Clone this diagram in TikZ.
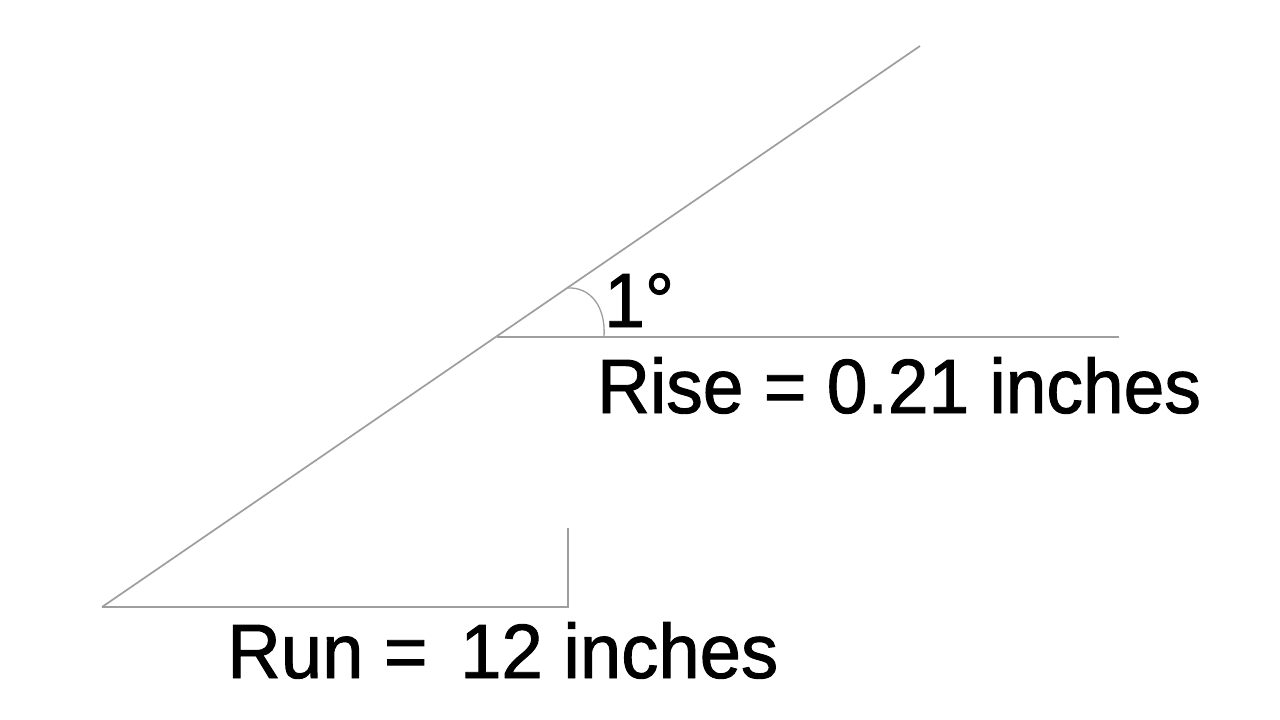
\documentclass[tikz,border=0pt]{standalone}
\usepackage{fontspec}
\newfontfamily\labfont[FakeStretch=0.95,FakeBold=1.2]{Liberation Sans}
\newfontfamily\runfont[FakeStretch=0.965,FakeBold=1.2]{Liberation Sans}
\begin{document}
\begin{tikzpicture}[x=1pt,y=-1pt,
  geoline/.style={draw=black!38, line width=1.7pt},
  lab/.style={inner sep=0pt, anchor=base west, text=black, font=\labfont\fontsize{77}{90}\selectfont},
  runlab/.style={lab, font=\runfont\fontsize{77}{90}\selectfont}]
\useasboundingbox[fill=white] (0,0) rectangle (1280,720);
% coordinates
\coordinate (base) at (102,607);
\coordinate (top) at (920,46);
\coordinate (vtx) at (497,337);
\coordinate (hend) at (1119,337);
\coordinate (runend) at (568,607);
\coordinate (tick) at (568,528);
\coordinate (arcA) at (568,288);
\coordinate (arcB) at (604,337);
% lines
\draw[geoline] (base) -- (top);
\draw[geoline] (vtx) -- (hend);
\draw[geoline] (base) -- (runend) -- (tick);
\draw[geoline, line width=1.3pt] (arcA) .. controls (590,287) and (606,306) .. (arcB);
% labels
\node[lab] (ang) at (604,327) {1°};
\node[lab] (rise) at (597,413) {Rise = 0.21 inches};
\node[runlab] (run) at (227,678) {Run =\hspace{12pt} 12 inches};
\end{tikzpicture}
\end{document}
